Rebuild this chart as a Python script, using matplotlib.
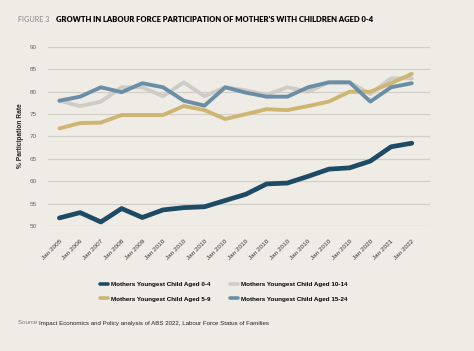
import matplotlib
matplotlib.use("Agg")
import matplotlib.pyplot as plt
import matplotlib.transforms as mtransforms
import numpy as np

# ---- data ----
tick_labels = ["Jan 2005", "Jan 2006", "Jan 2007", "Jan 2008", "Jan 2009",
               "Jan 2010", "Jan 2010", "Jan 2010", "Jan 2010", "Jan 2010",
               "Jan 2010", "Jan 2010", "Jan 2010", "Jan 2010", "Jan 2010",
               "Jan 2020", "Jan 2021", "Jan 2022"]
aged_0_4 = [51.8, 53.0, 50.9, 53.9, 51.9, 53.6, 54.1, 54.3, 55.7, 57.1,
            59.4, 59.6, 61.1, 62.7, 63.0, 64.5, 67.7, 68.5]
aged_5_9 = [71.8, 73.0, 73.1, 74.8, 74.8, 74.8, 76.8, 75.9, 73.9, 75.0,
            76.1, 75.9, 76.8, 77.8, 80.0, 80.0, 81.9, 84.0]
aged_10_14 = [78.0, 76.8, 77.8, 81.0, 81.0, 79.0, 82.1, 79.0, 81.0, 80.3,
              79.3, 81.0, 80.0, 82.1, 82.1, 79.5, 83.0, 83.0]
aged_15_24 = [78.0, 78.9, 81.0, 79.9, 81.9, 81.0, 78.0, 76.9, 81.0, 79.8,
              78.9, 78.9, 81.0, 82.1, 82.1, 77.8, 81.0, 81.9]
series_names = ["Mothers Youngest Child Aged 0-4", "Mothers Youngest Child Aged 5-9",
                "Mothers Youngest Child Aged 10-14", "Mothers Youngest Child Aged 15-24"]
y_ticks = [50, 55, 60, 65, 70, 75, 80, 85, 90]

bg = "#efece5"
c_dark = "#1d4a64"
c_gold = "#cdb673"
c_grey = "#cfccc7"
c_blue = "#6b8ea7"

plt.rcParams["font.family"] = ["Liberation Sans", "DejaVu Sans"]

fig = plt.figure(figsize=(4.74, 3.51), dpi=100, facecolor=bg)
ax = fig.add_axes([48/474, 1-226/351, (430-48)/474, (226-47)/351])
ax.set_facecolor(bg)

x = np.arange(len(tick_labels))
l_grey, = ax.plot(x, aged_10_14, color=c_grey, lw=2.8, solid_capstyle="round", solid_joinstyle="round", zorder=2)
l_gold, = ax.plot(x, aged_5_9, color=c_gold, lw=2.8, solid_capstyle="round", solid_joinstyle="round", zorder=3)
l_blue, = ax.plot(x, aged_15_24, color=c_blue, lw=2.8, solid_capstyle="round", solid_joinstyle="round", zorder=4)
l_dark, = ax.plot(x, aged_0_4, color=c_dark, lw=3.4, solid_capstyle="round", solid_joinstyle="round", zorder=5)

ax.set_xlim(-0.55, 17.88)
ax.set_ylim(50, 90)
ax.set_yticks(y_ticks)
ax.set_yticklabels([str(v) for v in y_ticks])
ax.set_xticks(x)
ax.set_xticklabels(tick_labels, rotation=45, ha="right", va="top", rotation_mode="anchor")
offset = mtransforms.ScaledTranslation(5/100, 0, fig.dpi_scale_trans)
for lab in ax.get_xticklabels():
    lab.set_transform(lab.get_transform() + offset)
ax.tick_params(axis="x", length=0, pad=9, labelsize=4.6, labelcolor="#333333")
ax.tick_params(axis="y", length=0, pad=8, labelsize=4.6, labelcolor="#666666")
ax.grid(axis="y", color="#d3cfc8", lw=0.9)
ax.set_axisbelow(True)
for s in ax.spines.values():
    s.set_visible(False)

fig.text(20/474, 1-136/351, "% Participation Rate", rotation=90, ha="center", va="center",
         fontsize=4.8, fontweight="bold", color="#222222")

# title
fig.text(18/474, 1-20/351, "FIGURE 3", fontsize=5.2, color="#888888",
         family=["Lato", "DejaVu Sans"], va="center")
fig.text(56/474, 1-20/351, "GROWTH IN LABOUR FORCE PARTICIPATION OF MOTHER'S WITH CHILDREN AGED 0-4",
         fontsize=5.5, fontweight="heavy", color="#000000", family=["Lato", "DejaVu Sans"], va="center")

leg = fig.legend([l_dark, l_gold, l_grey, l_blue], series_names, ncol=2,
                 loc="center left", bbox_to_anchor=(100/474, 1-291.5/351), frameon=False,
                 prop={"size": 4.5, "weight": "bold"}, handlelength=1.3, handletextpad=0.5,
                 columnspacing=3.1, labelspacing=1.5, borderpad=0, borderaxespad=0)
for h in leg.get_lines():
    h.set_linewidth(2.6)

fig.text(18/474, 1-323/351, "Source: ", fontsize=4.4, color="#777777", va="center")
fig.text(39/474, 1-323/351, "Impact Economics and Policy analysis of ABS 2022, Labour Force Status of Families",
         fontsize=4.4, color="#222222", va="center")

fig.savefig("out.png", dpi=100, facecolor=bg)
